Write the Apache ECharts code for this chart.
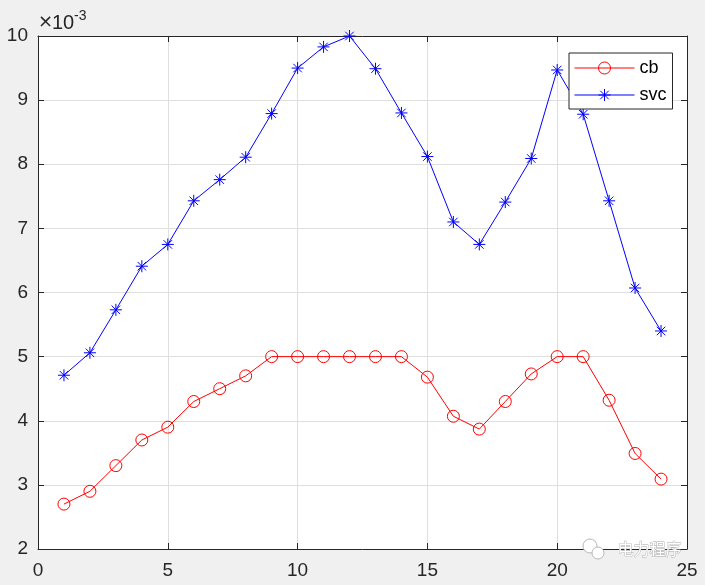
<!DOCTYPE html>
<html>
<head>
<meta charset="utf-8">
<script src="https://cdn.jsdelivr.net/npm/echarts@6/dist/echarts.min.js"></script>
<style>
html,body{margin:0;padding:0;background:#f0f0f0;}
#chart{width:705px;height:585px;}
</style>
</head>
<body>
<div id="chart"></div>
<script>
// Values in units of 1e-3
const xValues = [1,2,3,4,5,6,7,8,9,10,11,12,13,14,15,16,17,18,19,20,21,22,23,24];
const cbValues = [2.70,2.90,3.30,3.70,3.90,4.30,4.50,4.70,5.00,5.00,5.00,5.00,5.00,5.00,4.68,4.07,3.87,4.30,4.73,5.00,5.00,4.32,3.49,3.09];
const svcValues = [4.71,5.06,5.73,6.41,6.75,7.43,7.76,8.11,8.79,9.50,9.83,10.00,9.49,8.80,8.12,7.10,6.75,7.41,8.09,9.47,8.78,7.43,6.07,5.40];
const seriesNames = ['cb','svc'];
const xTicks = {min:0, max:25, interval:5};
const yTicks = {min:2, max:10, interval:1};

const chart = echarts.init(document.getElementById('chart'));
const axisColor = '#262626';
const font = 'Liberation Sans, Arial, sans-serif';
const asterisk = 'path://M0,-10L0,10M-10,0L10,0M-7.07,-7.07L7.07,7.07M-7.07,7.07L7.07,-7.07';

function pairs(ys){ return xValues.map((x,i)=>[x, ys[i]]); }

const baseX = {
  type:'value', min:xTicks.min, max:xTicks.max, interval:xTicks.interval,
  axisLine:{show:true, onZero:false, lineStyle:{color:axisColor, width:1}},
  axisTick:{show:true, inside:true, length:6, lineStyle:{color:axisColor}},
};
const baseY = {
  type:'value', min:yTicks.min, max:yTicks.max, interval:yTicks.interval,
  axisLine:{show:true, onZero:false, lineStyle:{color:axisColor, width:1}},
  axisTick:{show:true, inside:true, length:6, lineStyle:{color:axisColor}},
};

chart.setOption({
  backgroundColor:'#f0f0f0',
  animation:false,
  grid:{left:38, right:18, top:36, bottom:36, show:true, backgroundColor:'#ffffff', borderWidth:0},
  xAxis:[
    Object.assign({}, baseX, {
      position:'bottom',
      axisLabel:{color:axisColor, fontSize:19, fontFamily:font, margin:12},
      splitLine:{show:true, lineStyle:{color:'#dfdfdf', width:1}}
    }),
    Object.assign({}, baseX, {
      position:'top', axisLabel:{show:false}, splitLine:{show:false}
    })
  ],
  yAxis:[
    Object.assign({}, baseY, {
      position:'left',
      axisLabel:{color:axisColor, fontSize:19, fontFamily:font, margin:10},
      splitLine:{show:true, lineStyle:{color:'#dfdfdf', width:1}}
    }),
    Object.assign({}, baseY, {
      position:'right', axisLabel:{show:false}, splitLine:{show:false}
    })
  ],
  legend:{
    orient:'vertical',
    left:569, top:53,
    backgroundColor:'#ffffff',
    borderColor:axisColor, borderWidth:1, borderRadius:0,
    padding:[6,6,5,5],
    itemWidth:60, itemHeight:15, itemGap:9,
    itemStyle:{borderWidth:1},
    lineStyle:{width:1},
    textStyle:{color:'#000', fontSize:18, fontFamily:font},
    data:seriesNames
  },
  series:[
    {
      name:seriesNames[0], type:'line', data:pairs(cbValues),
      symbol:'circle', symbolSize:12, showAllSymbol:true,
      color:'#ff0000',
      lineStyle:{color:'#ff0000', width:1},
      itemStyle:{color:'rgba(0,0,0,0)', borderColor:'#ff0000', borderWidth:1},
      z:3
    },
    {
      name:seriesNames[1], type:'line', data:pairs(svcValues),
      symbol:asterisk, symbolSize:12, showAllSymbol:true,
      color:'#0000ff',
      lineStyle:{color:'#0000ff', width:1},
      itemStyle:{color:'rgba(0,0,0,0)', borderColor:'#0000ff', borderWidth:1},
      z:3
    }
  ],
  graphic:[
    {type:'text', left:38, top:13, style:{text:'×', fill:axisColor, font:'18px DejaVu Sans, sans-serif'}},
    {type:'text', left:52, top:13, style:{text:'10', fill:axisColor, font:'20px Liberation Sans, Arial, sans-serif'}},
    {type:'text', left:74, top:9, style:{text:'-3', fill:axisColor, font:'14px Liberation Sans, Arial, sans-serif'}},
    {type:'circle', shape:{cx:590, cy:546, r:7}, style:{fill:'#ffffff', stroke:'#b8b8b8', lineWidth:1}, z:100},
    {type:'circle', shape:{cx:598, cy:553, r:6}, style:{fill:'#ffffff', stroke:'#b8b8b8', lineWidth:1}, z:101},
    {type:'text', left:617, top:541, z:102, style:{text:'电力程序', fill:'#ffffff', stroke:'#a8a8a8', lineWidth:0.8, font:'16px Noto Sans CJK SC, sans-serif'}}
  ]
});
</script>
</body>
</html>
